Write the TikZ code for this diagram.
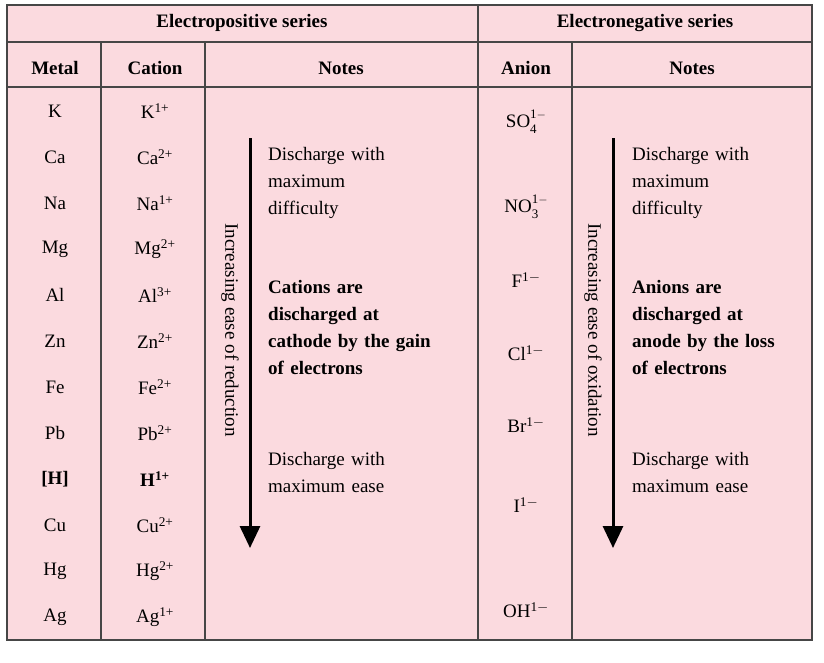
\documentclass[tikz,border=0pt]{standalone}
\usepackage{fontspec}
\setmainfont{Liberation Serif}
\usetikzlibrary{arrows.meta}
\definecolor{bg}{RGB}{251,218,223}
\definecolor{ln}{RGB}{70,70,70}
\newcommand{\sps}[1]{\textsuperscript{#1}}
\newcommand{\ion}[2]{\rlap{\raisebox{-0.35em}{\fontsize{13}{13}\selectfont #1}}\raisebox{0.45em}{\fontsize{13}{13}\selectfont #2}}
\begin{document}
\begin{tikzpicture}[x=1pt,y=-1pt,
  cell/.style={font=\fontsize{19}{22}\selectfont,inner sep=0pt},
  hdr/.style={cell,font=\fontsize{19}{22}\selectfont\bfseries},
  note/.style={cell,anchor=north west,align=left,text width=200pt,font=\fontsize{19}{27}\selectfont},
  bnote/.style={note,font=\fontsize{19}{27}\selectfont\bfseries},
  arr/.style={line width=3pt,-{Triangle[length=22pt,width=20pt]}},
  grid/.style={ln,line width=1.4pt}]
\useasboundingbox (0,0) rectangle (824,662);
\fill[bg] (7,5) rectangle (812,640);
\draw[grid] (7,5) rectangle (812,640);
\draw[grid] (7,42) -- (812,42);
\draw[grid] (7,87) -- (812,87);
\draw[grid] (478,5) -- (478,640);
\draw[grid] (101,42) -- (101,640);
\draw[grid] (205,42) -- (205,640);
\draw[grid] (572,42) -- (572,640);
\node[hdr] (h1) at (242,23) {Electropositive series};
\node[hdr] (h2) at (645,23) {Electronegative series};
\node[hdr] (c1) at (55,68) {Metal};
\node[hdr] (c2) at (155,68) {Cation};
\node[hdr] (c3) at (341,68) {Notes};
\node[hdr] (c4) at (526,68) {Anion};
\node[hdr] (c5) at (692,68) {Notes};
\foreach \m/\c [count=\i] in {K/K\sps{1+},Ca/Ca\sps{2+},Na/Na\sps{1+},Mg/Mg\sps{2+},Al/Al\sps{3+},Zn/Zn\sps{2+},Fe/Fe\sps{2+},Pb/Pb\sps{2+},\textbf{[H]}/\textbf{H\sps{1+}},Cu/Cu\sps{2+},Hg/Hg\sps{2+},Ag/Ag\sps{1+}}{
  \node[cell] (m\i) at (55,65+46*\i) {\m};
  \node[cell] (k\i) at (155,65+46*\i) {\c};
}
\node[cell] (a1) at (526,122) {SO\ion{4}{1$-$}};
\node[cell] (a2) at (526,207) {NO\ion{3}{1$-$}};
\node[cell] (a3) at (526,280) {F\sps{1$-$}};
\node[cell] (a4) at (526,353) {Cl\sps{1$-$}};
\node[cell] (a5) at (526,425) {Br\sps{1$-$}};
\node[cell] (a6) at (526,505) {I\sps{1$-$}};
\node[cell] (a7) at (526,610) {OH\sps{1$-$}};
\coordinate (s1) at (250,138); \coordinate (e1) at (250,548);
\coordinate (s2) at (613,138); \coordinate (e2) at (613,548);
\draw[arr] (s1) -- (e1);
\draw[arr] (s2) -- (e2);
\node[cell,rotate=-90] (r1) at (230,330) {Increasing ease of reduction};
\node[cell,rotate=-90] (r2) at (593,330) {Increasing ease of oxidation};
\node[note] (n1) at (268,147) {Discharge with\\maximum\\difficulty};
\node[bnote] (n2) at (268,280) {Cations are\\discharged at\\cathode by the gain\\of electrons};
\node[note] (n3) at (268,452) {Discharge with\\maximum ease};
\node[note] (n4) at (632,147) {Discharge with\\maximum\\difficulty};
\node[bnote] (n5) at (632,280) {Anions are\\discharged at\\anode by the loss\\of electrons};
\node[note] (n6) at (632,452) {Discharge with\\maximum ease};
\end{tikzpicture}
\end{document}
